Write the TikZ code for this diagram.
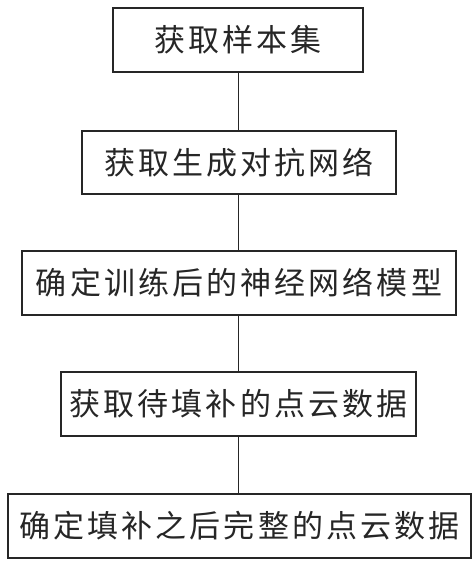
\documentclass[tikz,border=0pt]{standalone}
\usepackage{fontspec}
\newfontfamily\cjk[LetterSpace=10]{Noto Sans CJK SC}
\begin{document}
\begin{tikzpicture}[x=1pt,y=-1pt,
  stepbox/.style={draw=black!85,line width=1.6pt,rectangle,inner sep=0pt,
    font=\cjk\fontsize{31}{31}\selectfont,text=black!85},
  link/.style={draw=black!85,line width=1.6pt}]
\useasboundingbox (0,0) rectangle (474,566);
\node[stepbox,minimum width=250pt,minimum height=64pt] (b1) at (238,40) {获取样本集};
\node[stepbox,minimum width=314pt,minimum height=63.5pt] (b2) at (239,162.5) {获取生成对抗网络};
\node[stepbox,minimum width=434pt,minimum height=64pt] (b3) at (239,283) {确定训练后的神经网络模型};
\node[stepbox,minimum width=355.5pt,minimum height=64pt] (b4) at (238.5,403.7) {获取待填补的点云数据};
\node[stepbox,minimum width=463pt,minimum height=64pt] (b5) at (239.5,526) {确定填补之后完整的点云数据};
\coordinate (lx) at (238.5,0);
\draw[link] (lx |- b1.south) -- (lx |- b2.north);
\draw[link] (lx |- b2.south) -- (lx |- b3.north);
\draw[link] (lx |- b3.south) -- (lx |- b4.north);
\draw[link] (lx |- b4.south) -- (lx |- b5.north);
\end{tikzpicture}
\end{document}
